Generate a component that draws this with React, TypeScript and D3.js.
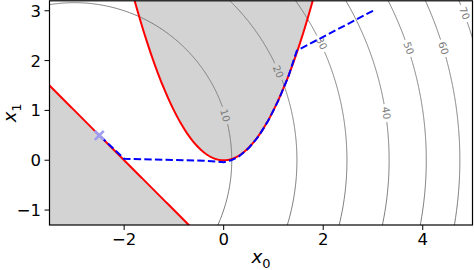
import React, { useMemo } from "react";
import * as d3 from "d3";

const W = 474;
const H = 270;

const X0_DOMAIN: [number, number] = [-3.5, 5];
const X1_DOMAIN: [number, number] = [-1.3, 3.2];
const X_TICKS = [-2, 0, 2, 4];
const Y_TICKS = [-1, 0, 1, 2, 3];

// objective: f(x) = (x0 - c0)^2 + (x1 - c1)^2
const OBJ_CENTER = [-3, 0];
const LEVELS = [10, 20, 30, 40, 50, 60, 70];
const LABEL_X0 = [0.03, 1.1, 1.97, 3.27, 3.72, 4.42, 4.84];
const LABEL_X1 = [0.9, 1.78, 2.35, 0.95, 2.25, 2.25, 2.95];

// constraints: x1 - x0^2 (shaded where >= 0), -(x0 + x1 + 2) (shaded where >= 0)
const LINE_OFFSET = -2;

// optimization path
const PATH_X0 = [3.0, 1.47, 1.3, 1.1, 0.9, 0.7, 0.5, 0.3, 0.15, 0.0, -0.4, -2.0, -2.5];
const PATH_X1 = [3.0, 2.2, 1.68, 1.2, 0.8, 0.48, 0.24, 0.07, 0.0, -0.04, -0.01, 0.03, 0.5];
const OPT = [-2.5, 0.5];

const objective = (a: number, b: number) => (a - OBJ_CENTER[0]) ** 2 + (b - OBJ_CENTER[1]) ** 2;
const parabolaConstraint = (a: number, b: number) => b - a * a;
const lineConstraint = (a: number, b: number) => -(a + b - LINE_OFFSET);

const L = 49.5, R = 472.5, T = 0.8, B = 225;

export default function App() {
  const x = d3.scaleLinear().domain(X0_DOMAIN).range([L, R]);
  const y = d3.scaleLinear().domain(X1_DOMAIN).range([B, T]);

  const { objPaths, parPath, linPath } = useMemo(() => {
    const step = 0.02;
    const gx0 = -4.2, gx1 = 5.8, gy0 = -2.2, gy1 = 4.2;
    const n = Math.round((gx1 - gx0) / step) + 1;
    const m = Math.round((gy1 - gy0) / step) + 1;
    const fv = new Float64Array(n * m);
    const pv = new Float64Array(n * m);
    const lv = new Float64Array(n * m);
    for (let j = 0; j < m; j++) {
      for (let i = 0; i < n; i++) {
        const a = gx0 + i * step, b = gy0 + j * step;
        fv[i + j * n] = objective(a, b);
        pv[i + j * n] = parabolaConstraint(a, b);
        lv[i + j * n] = lineConstraint(a, b);
      }
    }
    const proj = d3.geoTransform({
      point(px: number, py: number) {
        // @ts-ignore
        this.stream.point(x(gx0 + (px - 0.5) * step), y(gy0 + (py - 0.5) * step));
      },
    });
    const gp = d3.geoPath(proj);
    const c = d3.contours().size([n, m]);
    const objPaths = LEVELS.map((lv0) => gp(c.contour(Array.from(fv) as any, lv0) as any) || "");
    const parPath = gp(c.contour(Array.from(pv) as any, 0) as any) || "";
    const linPath = gp(c.contour(Array.from(lv) as any, 0) as any) || "";
    return { objPaths, parPath, linPath };
  }, []);

  const sx = (R - L) / (X0_DOMAIN[1] - X0_DOMAIN[0]);
  const sy = (B - T) / (X1_DOMAIN[1] - X1_DOMAIN[0]);
  const labels = LEVELS.map((lev, k) => {
    const a = LABEL_X0[k], b = LABEL_X1[k];
    const h = 1e-4;
    const ga = (objective(a + h, b) - objective(a - h, b)) / (2 * h);
    const gb = (objective(a, b + h) - objective(a, b - h)) / (2 * h);
    const tx = -gb * sx, ty = -ga * sy; // tangent in pixel space (y flipped)
    let ang = (Math.atan2(ty, tx) * 180) / Math.PI;
    if (ang > 90) ang -= 180;
    if (ang <= -90) ang += 180;
    return { lev, px: x(a), py: y(b), ang };
  });

  const line = d3
    .line<number>()
    .x((_, i) => x(PATH_X0[i]))
    .y((_, i) => y(PATH_X1[i]));

  const font = "DejaVu Sans, sans-serif";
  const ox = x(OPT[0]), oy = y(OPT[1]), ms = 4.5;

  return (
    <svg width={W} height={H} style={{ position: "absolute", left: 0, top: 0 }}>
      <defs>
        <clipPath id="plotclip">
          <rect x={L} y={T} width={R - L} height={B - T} />
        </clipPath>
        <mask id="lblmask" maskUnits="userSpaceOnUse" x={0} y={0} width={W} height={H}>
          <rect x={0} y={0} width={W} height={H} fill="white" />
          {labels.map((l) => (
            <rect
              key={l.lev}
              x={-9}
              y={-5}
              width={18}
              height={10}
              fill="black"
              transform={`translate(${l.px},${l.py}) rotate(${l.ang})`}
            />
          ))}
        </mask>
      </defs>
      <rect x={0} y={0} width={W} height={H} fill="white" />
      <g clipPath="url(#plotclip)">
        <path d={parPath} fill="#d3d3d3" stroke="none" />
        <path d={linPath} fill="#d3d3d3" stroke="none" />
        <g mask="url(#lblmask)">
          {objPaths.map((d, k) => (
            <path key={k} d={d} fill="none" stroke="#7a7a7a" strokeWidth={1} />
          ))}
        </g>
        {labels.map((l) => (
          <text
            key={l.lev}
            transform={`translate(${l.px},${l.py}) rotate(${l.ang})`}
            textAnchor="middle"
            dy="0.36em"
            fontFamily={font}
            fontSize={10}
            fill="#7a7a7a"
          >
            {l.lev}
          </text>
        ))}
        <path d={parPath} fill="none" stroke="#ff0000" strokeWidth={2} />
        <path d={linPath} fill="none" stroke="#ff0000" strokeWidth={2} />
        <path
          d={line(PATH_X0) || ""}
          fill="none"
          stroke="#0000ff"
          strokeWidth={2}
          strokeDasharray="7.4,3.2"
        />
        <g stroke="#9c9cf2" strokeWidth={2.6}>
          <line x1={ox - ms} y1={oy - ms} x2={ox + ms} y2={oy + ms} />
          <line x1={ox - ms} y1={oy + ms} x2={ox + ms} y2={oy - ms} />
        </g>
      </g>
      <rect x={L} y={T} width={R - L} height={B - T} fill="none" stroke="black" strokeWidth={1.2} />
      {X_TICKS.map((t) => (
        <g key={t}>
          <line x1={x(t)} x2={x(t)} y1={B} y2={B + 5} stroke="black" strokeWidth={1} />
          <text x={x(t)} y={245} textAnchor="middle" fontFamily={font} fontSize={16.5}>
            {t < 0 ? "\u2212" + Math.abs(t) : String(t)}
          </text>
        </g>
      ))}
      {Y_TICKS.map((t) => (
        <g key={t}>
          <line x1={L - 5} x2={L} y1={y(t)} y2={y(t)} stroke="black" strokeWidth={1} />
          <text x={41} y={y(t) + 6} textAnchor="end" fontFamily={font} fontSize={16.5}>
            {t < 0 ? "\u2212" + Math.abs(t) : String(t)}
          </text>
        </g>
      ))}
      <text x={(L + R) / 2} y={263} textAnchor="middle" fontFamily={font} fontSize={18.5}>
        <tspan fontStyle="italic">x</tspan>
        <tspan fontSize={13} dy={5}>0</tspan>
      </text>
      <text
        transform={`translate(16,${(T + B) / 2}) rotate(-90)`}
        textAnchor="middle"
        fontFamily={font}
        fontSize={18}
      >
        <tspan fontStyle="italic">x</tspan>
        <tspan fontSize={12.5} dy={5}>1</tspan>
      </text>
    </svg>
  );
}
